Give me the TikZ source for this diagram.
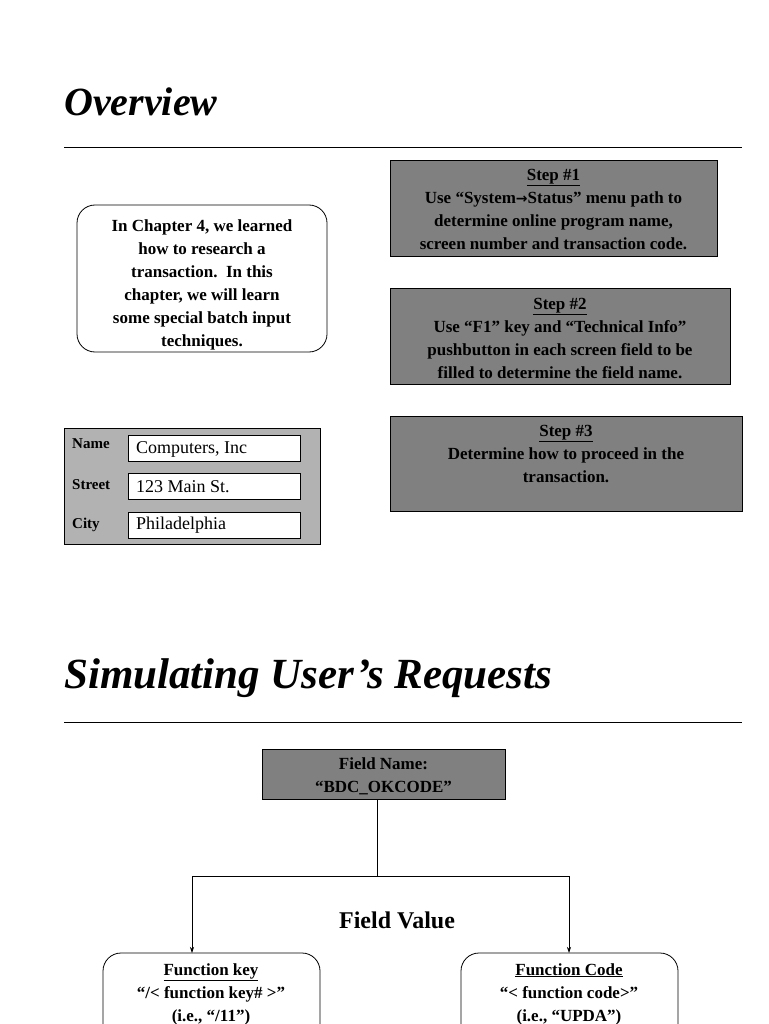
\documentclass[tikz,border=0pt]{standalone}
\usepackage{fontspec}
\setmainfont{Liberation Serif}
\usetikzlibrary{arrows.meta}
\begin{document}
\begin{tikzpicture}[x=1pt,y=-1pt,
  txt/.style={font=\fontsize{17}{23}\selectfont\bfseries, align=center, inner sep=0pt},
  stepbox/.style={draw=black, fill=black!50, line width=0.8pt},
  field/.style={draw=black, fill=white, line width=0.8pt},
  lbl/.style={font=\fontsize{15}{18}\selectfont\bfseries, anchor=west, inner sep=0pt},
  val/.style={font=\fontsize{18}{20}\selectfont, anchor=west, inner sep=0pt},
  arr/.style={-{Stealth[length=6pt,width=4pt]}, line width=0.7pt}]
\useasboundingbox (0,0) rectangle (768,1024);
\clip (0,0) rectangle (768,1024);
\node[anchor=west, inner sep=0pt, font=\fontsize{40}{40}\selectfont\bfseries\itshape] (t1) at (64,102) {Overview};
\draw[line width=0.7pt] (64,147) -- (742,147);
% rounded box
\draw[rounded corners=18pt, line width=0.8pt, fill=white] (77,205) rectangle (327,352);
\node[txt] (intro) at (202,285) {In Chapter 4, we learned\\how to research a\\transaction.\ \ In this\\chapter, we will learn\\some special batch input\\techniques.};
% steps
\draw[stepbox] (390,160) rectangle (717,256);
\node[txt] (s1) at (553.5,209) {\underline{Step \#1}\\Use “System{\fontspec{DejaVu Sans}\fontsize{14}{14}\selectfont →}Status” menu path to\\determine online program name,\\screen number and transaction code.};
\draw[stepbox] (390,288) rectangle (730,384);
\node[txt] (s2) at (560,338) {\underline{Step \#2}\\Use “F1” key and “Technical Info”\\pushbutton in each screen field to be\\filled to determine the field name.};
\draw[stepbox] (390,416) rectangle (742,511);
\node[txt] (s3) at (566,454) {\underline{Step \#3}\\Determine how to proceed in the\\transaction.};
% form
\draw[line width=0.8pt, fill=black!30] (64,428) rectangle (320,544);
\draw[field] (128,435) rectangle (300,461);
\draw[field] (128,473) rectangle (300,499);
\draw[field] (128,512) rectangle (300,538);
\node[lbl] (ln) at (72,444) {Name};
\node[lbl] (ls) at (72,485) {Street};
\node[lbl] (lc) at (72,525) {City};
\node[val] (vn) at (136,449) {Computers, Inc};
\node[val] (vs) at (136,487) {123 Main St.};
\node[val] (vc) at (136,525) {Philadelphia};
% second section
\node[anchor=west, inner sep=0pt, font=\fontsize{43}{43}\selectfont\bfseries\itshape] (t2) at (64,678) {Simulating User’s Requests};
\draw[line width=0.7pt] (64,722) -- (742,722);
\draw[stepbox] (262,749) rectangle (505,799);
\node[txt] (fn) at (383.5,776) {Field Name:\\“BDC\_OKCODE”};
\coordinate (top) at (377,799);
\coordinate (mid) at (377,876);
\coordinate (lj) at (192,876);
\coordinate (rj) at (569,876);
\draw[rounded corners=18pt, line width=0.8pt, fill=white] (103,953) rectangle (320,1080);
\draw[rounded corners=18pt, line width=0.8pt, fill=white] (461,953) rectangle (678,1080);
\coordinate (la) at (192,953);
\coordinate (ra) at (569,953);
\draw[line width=0.7pt] (top) -- (mid) (lj) -- (rj);
\draw[arr] (lj) -- (la);
\draw[arr] (rj) -- (ra);
\node[font=\fontsize{24}{24}\selectfont\bfseries, inner sep=0pt] (fv) at (397,920) {Field Value};
\node[txt, anchor=north] (fk) at (211,963) {\underline{Function key}\\“/< function key\# >”\\(i.e., “/11”)};
\node[txt, anchor=north] (fc) at (569,963) {\underline{Function Code}\\“< function code>”\\(i.e., “UPDA”)};
\end{tikzpicture}
\end{document}
